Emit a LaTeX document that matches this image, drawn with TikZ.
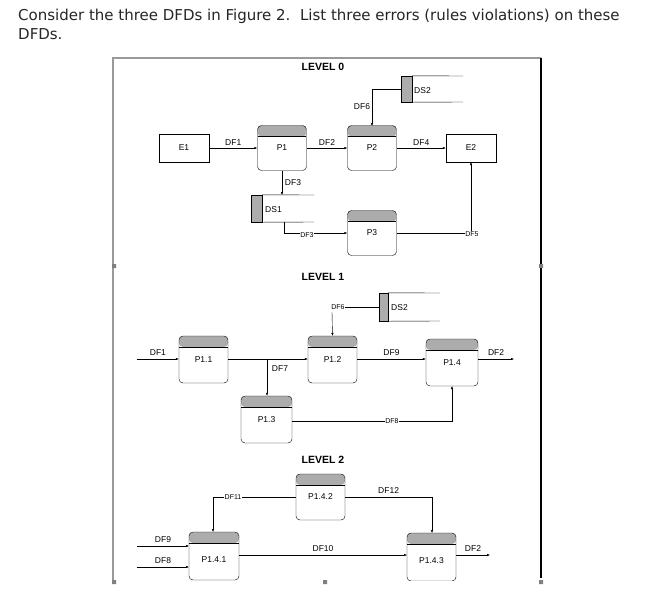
\documentclass[tikz,border=0pt]{standalone}
\usepackage{fontspec}
\setmainfont{Liberation Sans}
\newfontfamily\titlefont{DejaVu Sans}
\usetikzlibrary{arrows.meta}
\begin{document}
\begin{tikzpicture}[x=1pt,y=-1pt,
  every node/.style={font=\fontsize{8.5}{10}\selectfont, inner sep=0pt},
  proc/.style={draw, rounded corners=4pt, minimum width=49pt, minimum height=45pt,
    path picture={\fill[gray!65] (path picture bounding box.north west) rectangle ([yshift=-11pt]path picture bounding box.north east);
      \draw ([yshift=-11pt]path picture bounding box.north west) -- ([yshift=-11pt]path picture bounding box.north east);}},
  ent/.style={draw, minimum width=50pt, minimum height=28pt},
  bar/.style={draw, fill=gray!65, minimum width=11pt},
  flow/.style={draw, -{Latex[length=3pt,width=2.4pt]}},
  small/.style={font=\fontsize{7}{8}\selectfont, fill=white, inner sep=0.5pt},
  lvl/.style={font=\bfseries\fontsize{10.5}{12}\selectfont}]
\useasboundingbox (0,0) rectangle (655,590);
\fill[white] (0,0) rectangle (655,590);
% title
\node[anchor=base west, font=\titlefont\fontsize{15}{18}\selectfont, text=black!85] (t1) at (18,20) {Consider the three DFDs in Figure 2.\ \ List three errors (rules violations) on these};
\node[anchor=base west, font=\titlefont\fontsize{15}{18}\selectfont, text=black!85] (t2) at (18,39) {DFDs.};
% frame
\draw[gray!80, line width=1.2pt] (113,580) -- (113,58) -- (541,58);
\draw[black, line width=2pt] (541,58) -- (541,578);
\fill[gray] (112,264) rectangle (116,268) (539,264) rectangle (543,268) (323,580) rectangle (327,584) (539,580) rectangle (543,584) (112,580) rectangle (116,584);
% ===== LEVEL 0
\node[lvl] (L0) at (323,67) {LEVEL 0};
\node[ent] (E1) at (184,148) {E1};
\node[proc] (P1) at (282,148) {P1};
\node[proc] (P2) at (372,148) {P2};
\node[ent] (E2) at (471,148) {E2};
\node[proc] (P3) at (372,233) {P3};
\node[bar, minimum height=26pt] (DS2b) at (406.5,89) {};
\draw (DS2b.north east) -- (463,76) (DS2b.south east) -- (463,102);
\node[anchor=west] (DS2) at (414,91) {DS2};
\node[bar, minimum height=27pt] (DS1b) at (256.5,208.5) {};
\draw (DS1b.north east) -- (314,195) (DS1b.south east) -- (314,222);
\node[anchor=west] (DS1) at (265,210) {DS1};
\draw[flow] (E1) -- node[above=2pt]{DF1} (P1);
\draw[flow] (P1) -- node[above=2pt]{DF2} (P2);
\draw[flow] (P2) -- node[above=2pt]{DF4} (E2);
\draw[flow] (DS2b.west) -| (372,126);
\node (df6a) at (362,107) {DF6};
\draw[flow] (282,170.5) -- (282,195);
\node (df3a) at (293,183) {DF3};
\draw[flow] (284,222) |- (P3.west);
\node[small] (df3b) at (307,235) {DF3};
\draw[flow] (P3.east) -| (471,162);
\node[small] (df5) at (472,234) {DF5};
% ===== LEVEL 1
\node[lvl] (L1) at (323,277) {LEVEL 1};
\node[proc, minimum height=47pt] (P11) at (203.5,359.5) {P1.1};
\node[proc, minimum height=47pt] (P12) at (332.5,359.5) {P1.2};
\node[proc, minimum height=47pt, minimum width=52pt] (P14) at (452,362.5) {P1.4};
\node[proc, minimum height=47pt, minimum width=51pt] (P13) at (266.5,419.5) {P1.3};
\node[bar, minimum width=9pt, minimum height=28pt] (DS2c) at (383.5,307) {};
\draw (DS2c.north east) -- (440,293) (DS2c.south east) -- (440,321);
\node[anchor=west] (DS2x) at (391,308) {DS2};
\node[small] (df6b) at (338,307) {DF6};
\draw (DS2c.west) -- (df6b.east);
\draw[flow] (332,312) -- (P12.north);
\coordinate (in1) at (137,359);
\draw[flow] (in1) -- node[above=3pt]{DF1} (P11.west |- in1);
\draw[flow] (P11.east |- in1) -- (P12.west |- in1);
\draw[flow] (267,359) -- (P13.north -| 267,0);
\node (df7) at (280,369) {DF7};
\draw[flow] (P12.east |- in1) -- node[above=3pt]{DF9} (P14.west |- in1);
\coordinate (out1) at (514,359);
\draw[flow] (P14.east |- in1) -- node[above=3pt]{DF2} (out1);
\draw[flow] (P13.east |- 0,421) -| (452,386);
\node[small] (df8) at (392,421) {DF8};
% ===== LEVEL 2
\node[lvl] (L2) at (323,460) {LEVEL 2};
\node[proc, minimum height=46pt] (P142) at (320.5,497) {P1.4.2};
\begin{scope}
\clip (150,520) rectangle (520,580);
\node[proc, minimum height=48pt, minimum width=50pt] (P141) at (214,556) {};
\node[proc, minimum height=48pt, minimum width=49pt] (P143) at (431.5,557) {};
\end{scope}
\node (t141) at (214,560) {P1.4.1};
\node (t143) at (431.5,561) {P1.4.3};
\draw[flow] (P142.west) -| (213,532);
\node[small] (df11) at (233,497) {DF11};
\draw[flow] (P142.east) -- node[above=3pt]{DF12} (432,497) -- (432,533);
\coordinate (in9) at (137,546);
\coordinate (in8) at (137,567);
\draw[flow] (in9) -- node[above=3pt]{DF9} (189,546);
\draw[flow] (in8) -- node[above=3pt]{DF8} (189,567);
\draw[flow] (239,555) -- node[above=3pt]{DF10} (407,555);
\coordinate (out2) at (490,555);
\draw[flow] (456,555) -- node[above=3pt]{DF2} (out2);
\end{tikzpicture}
\end{document}
